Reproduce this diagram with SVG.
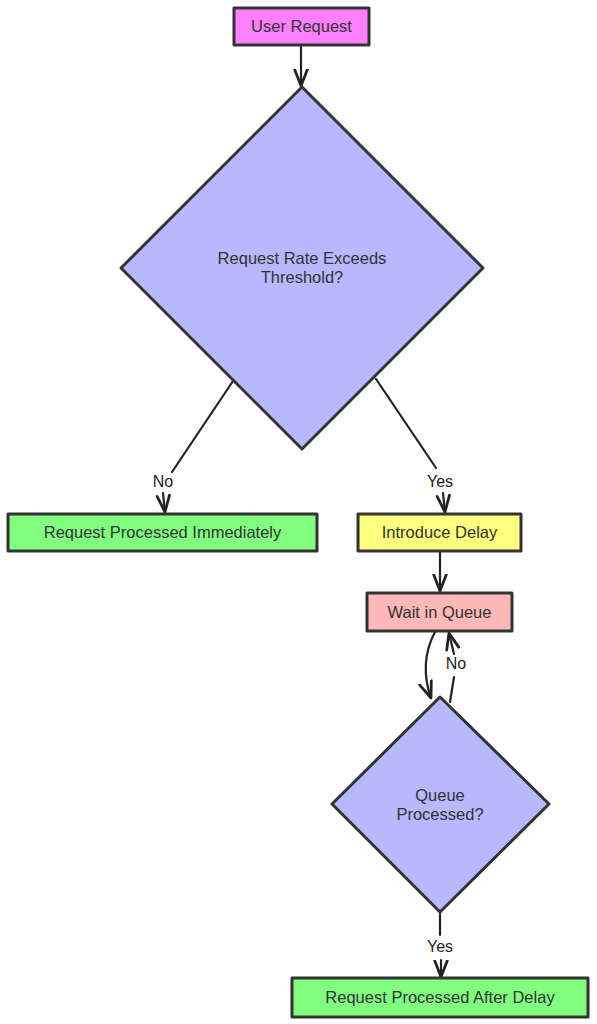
<svg xmlns="http://www.w3.org/2000/svg" width="597" height="1024" viewBox="0 0 597 1024">
<style>
.node{stroke:#333;stroke-width:3;stroke-linejoin:round}
.t{font-family:"Liberation Sans",Arial,sans-serif;font-size:16.5px;fill:#333;text-anchor:middle}
.lbl{font-family:"Liberation Sans",Arial,sans-serif;font-size:16px;fill:#222;text-anchor:middle}
.edge{fill:none;stroke:#222;stroke-width:2.2;stroke-linecap:round}
</style>
<defs>
<marker id="arr" markerUnits="userSpaceOnUse" markerWidth="20" markerHeight="20" viewBox="-14 -8 16 16" refX="0" refY="0" orient="auto">
<path d="M-13,-5 L0,0 L-13,5" fill="none" stroke="#222" stroke-width="2.2" stroke-linecap="round" stroke-linejoin="round"/>
</marker>
</defs>
<rect width="597" height="1024" fill="#fff"/>
<g id="connectors">
<path class="edge" d="M301,46 L301,86" marker-end="url(#arr)"/>
<path class="edge" d="M233,381 L172,472"/>
<path class="edge" d="M163,493 L165,512" marker-end="url(#arr)"/>
<path class="edge" d="M376,379 L436,468"/>
<path class="edge" d="M443,493 L445,512" marker-end="url(#arr)"/>
<path class="edge" d="M440,552 L440,591" marker-end="url(#arr)"/>
<path class="edge" d="M435,632 C424,652 423,676 431,698" marker-end="url(#arr)"/>
<path class="edge" d="M450,702 L454,677"/>
<path class="edge" d="M454,654 L449,633" marker-end="url(#arr)"/>
<path class="edge" d="M440,913 L440,935"/>
<path class="edge" d="M441,960 L441,977" marker-end="url(#arr)"/>
<text class="lbl" x="163" y="487">No</text>
<text class="lbl" x="440" y="487">Yes</text>
<text class="lbl" x="456" y="669">No</text>
<text class="lbl" x="440" y="952">Yes</text>
</g>
<g id="user-request">
<rect class="node" x="234" y="8" width="135" height="37" fill="#ff80ff"/>
<text class="t" x="301.5" y="32">User Request</text>
</g>
<g id="rate-check">
<polygon class="node" points="302,87 483,268 302,449 121,268" fill="#b8b8ff"/>
<text class="t" x="302" y="264">Request Rate Exceeds</text>
<text class="t" x="302" y="283">Threshold?</text>
</g>
<g id="processed-immediately">
<rect class="node" x="8" y="514" width="309" height="37" fill="#80ff80"/>
<text class="t" x="162.5" y="538">Request Processed Immediately</text>
</g>
<g id="introduce-delay">
<rect class="node" x="358" y="514" width="163" height="37" fill="#ffff80"/>
<text class="t" x="439.5" y="538">Introduce Delay</text>
</g>
<g id="wait-in-queue">
<rect class="node" x="367" y="593" width="145" height="38" fill="#ffb8b8"/>
<text class="t" x="439.5" y="618">Wait in Queue</text>
</g>
<g id="queue-check">
<polygon class="node" points="440,697 549,804 440,912 332,804" fill="#b8b8ff"/>
<text class="t" x="440" y="801">Queue</text>
<text class="t" x="440" y="820">Processed?</text>
</g>
<g id="processed-after-delay">
<rect class="node" x="292" y="978" width="296" height="39" fill="#80ff80"/>
<text class="t" x="440" y="1003">Request Processed After Delay</text>
</g>
</svg>
